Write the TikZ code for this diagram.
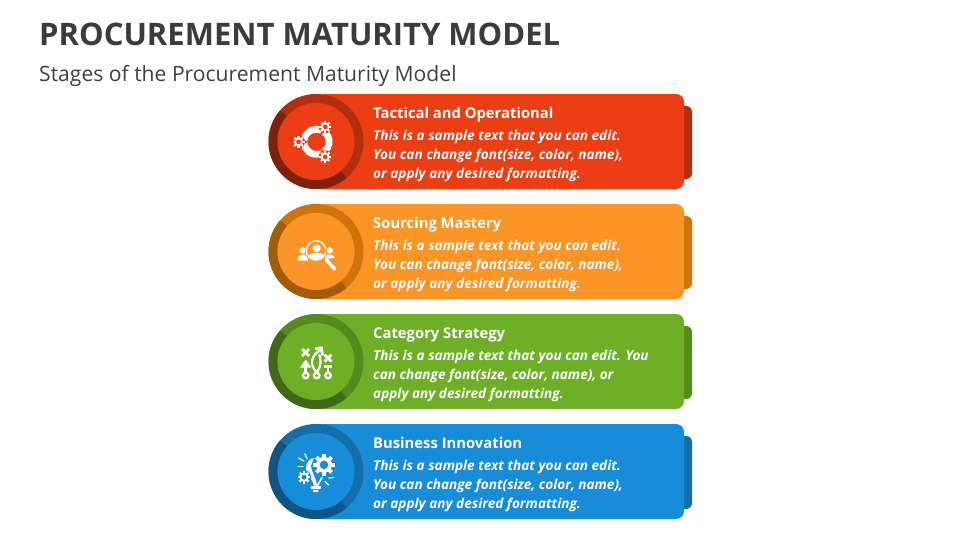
\documentclass[tikz,border=0pt]{standalone}
\usepackage{fontspec}
\setmainfont{Open Sans}
\definecolor{titlegray}{HTML}{3B3B3B}
\definecolor{subgray}{HTML}{404040}
\definecolor{redA}{HTML}{EC3D13}\definecolor{redB}{HTML}{B32E0F}\definecolor{redC}{HTML}{7E200A}
\definecolor{oraA}{HTML}{FB9526}\definecolor{oraB}{HTML}{D0730A}\definecolor{oraC}{HTML}{A35B06}
\definecolor{greA}{HTML}{6EAF26}\definecolor{greB}{HTML}{558A1E}\definecolor{greC}{HTML}{3F6917}
\definecolor{bluA}{HTML}{178CD9}\definecolor{bluB}{HTML}{146FA8}\definecolor{bluC}{HTML}{0E5484}
\tikzset{
  x=1pt,y=-1pt,
  headtext/.style={anchor=base west,inner sep=0pt,text=white,font=\fontsize{14.8}{19}\selectfont\bfseries},
  bodytext/.style={anchor=north west,inner sep=0pt,text=white,align=left,font=\fontsize{13.6}{19.1}\selectfont\bfseries\itshape},
}
% #1 centre y, #2 face, #3 mid, #4 dark
\newcommand{\stagecard}[4]{%
  \fill[#3,rounded corners=6] (670,#1-35.5) -- (692,#1-35.5) -- (692,#1+37.5) -- (670,#1+37.5) -- cycle;
  \fill[#2,rounded corners=8] (316,#1-47.5) -- (684,#1-47.5) -- (684,#1+47.5) -- (316,#1+47.5) -- cycle;
  \fill[#3] (316,#1) circle[radius=47.5];
  \draw[#4,line width=9] (316,#1) ++(-139:43) arc[start angle=-139,end angle=-310,radius=43];
  \fill[#2] (316,#1) circle[radius=38.5];
}
% #1 x, #2 y, #3 radius, #4 hole colour
\newcommand{\gearicon}[4]{%
  \foreach \ang in {0,45,...,315}{\draw[white,line width=#3*0.34] (#1,#2) -- ++(\ang:#3);}
  \fill[white] (#1,#2) circle[radius=#3*0.74];
  \fill[#4] (#1,#2) circle[radius=#3*0.40];
}
\begin{document}
\begin{tikzpicture}
\useasboundingbox (0,0) rectangle (960,540);
\fill[white] (0,0) rectangle (960,540);
\node[anchor=west,inner sep=0pt,text=titlegray,font=\fontsize{31}{38}\selectfont\bfseries] (title) at (39,34.5) {PROCUREMENT MATURITY MODEL};
\node[anchor=west,inner sep=0pt,text=subgray,font=\fontsize{21.1}{24}\selectfont] (subtitle) at (39,75.5) {Stages of the Procurement Maturity Model};

\stagecard{141.5}{redA}{redB}{redC}
\stagecard{251.5}{oraA}{oraB}{oraC}
\stagecard{361.5}{greA}{greB}{greC}
\stagecard{471.5}{bluA}{bluB}{bluC}

% icon 1
\begin{scope}[shift={(316.5,141.8)}]
  \draw[white,line width=6.8] (-52:12.6) arc[start angle=-52,end angle=52,radius=12.6];
  \draw[white,line width=6.8] (68:12.6) arc[start angle=68,end angle=172,radius=12.6];
  \draw[white,line width=6.8] (188:12.6) arc[start angle=188,end angle=292,radius=12.6];
  \fill[redA] (8.7,-15) circle[radius=6.5];\fill[redA] (-18,0) circle[radius=6.5];\fill[redA] (8.7,15) circle[radius=6.5];
  \gearicon{8.7}{-15}{6}{redA}
  \gearicon{-18}{0}{6}{redA}
  \gearicon{8.7}{15}{6}{redA}
\end{scope}

% icon 2
\begin{scope}[shift={(316,251.5)}]
  \fill[white] (-13,-1) circle[radius=3.2];
  \fill[white] (13.7,-1) circle[radius=3.2];
  \fill[white] (-18.7,9) .. controls (-18.7,4) and (-15,2.8) .. (-10,3) -- (-8,9) -- cycle;
  \fill[white] (18.7,6) .. controls (18,4) and (15,2.8) .. (10,3) -- (9,8) -- cycle;
  \fill[oraA] (0,-1) circle[radius=11];
  \draw[white,line width=1.3] (0,-1) circle[radius=9.7];
  \fill[white] (0.7,-3.3) circle[radius=4];
  \fill[white] (-7.5,5.5) .. controls (-6.5,2) and (-3,1.3) .. (0.5,1.3) .. controls (4,1.3) and (7.5,2) .. (8,5.5) .. controls (3,9) and (-3,9) .. (-7.5,5.5) -- cycle;
  \draw[white,line width=3.4,line cap=round] (10.3,8.3) -- (18.7,17.7);
\end{scope}

% icon 3
\begin{scope}[shift={(316,361.5)}]
  \foreach \px in {-10.3,0.7,12}{\fill[white] (\px,14) circle[radius=4];\fill[greA] (\px,14) circle[radius=1.7];}
  \draw[white,line width=2.7] (-10.3,11) -- (-10.3,3);
  \fill[white,rounded corners=0.7] (-16,6) -- (-10.3,-2) -- (-4.7,6) -- cycle;
  \draw[white,line width=2.8] (-13.8,-12.5) -- (-6.8,-5.5);
  \draw[white,line width=2.8] (-6.8,-12.5) -- (-13.8,-5.5);
  \draw[white,line width=2.6] (12,11) -- (12,5);
  \draw[white,line width=2.6] (8,5) -- (16.3,5);
  \draw[white,line width=2.8] (8.6,-6.7) -- (15.4,0);
  \draw[white,line width=2.8] (15.4,-6.7) -- (8.6,0);
  \draw[white,line width=2.2] (0.7,11) .. controls (-7,3) and (-5,-6) .. (5,-12);
  \draw[white,line width=2.2] (0.7,11) .. controls (6,3) and (5,-2) .. (3,-7);
  \draw[white,line width=2.8,line join=miter] (-1,-13) -- (5.5,-13.5) -- (6.5,-6);
\end{scope}

% icon 4
\begin{scope}[shift={(316,471.5)}]
  \fill[white] (0,-14) .. controls (-7,-13.5) and (-10.5,-8) .. (-10,-2) .. controls (-9.5,4) and (-3,8) .. (-2,14) -- (1,14) .. controls (0,6) and (-5,0) .. (-5,-6) .. controls (-5,-9) and (-3,-11) .. (0,-12) -- cycle;
  \draw[white,line width=1.6,line cap=round] (1.5,14) -- (6,6);
  \fill[white,rounded corners=1] (-5.5,14.5) rectangle (5,17.5);
  \fill[white,rounded corners=0.8] (-3,18.5) rectangle (2.5,20.5);
  \fill[bluA] (8,-6.7) circle[radius=11.8];
  \gearicon{8}{-6.7}{10.7}{bluA}
  \fill[bluA] (-12,5.7) circle[radius=7];
  \gearicon{-12}{5.7}{6.3}{bluA}
  \draw[white,line width=1.3,line cap=round] (-17.5,-13.5) -- (-12,-10.5);
  \draw[white,line width=1.3,line cap=round] (-11,-17.5) -- (-9,-13);
  \draw[white,line width=1.3,line cap=round] (-18,-5) -- (-13,-5);
  \draw[white,line width=1.3,line cap=round] (13,6.5) -- (17.5,6);
  \draw[white,line width=1.3,line cap=round] (9,10) -- (12.5,13.5);
\end{scope}

\node[headtext] (h1) at (373,118.5) {Tactical and Operational};
\node[bodytext] (b1) at (373,130) {This is a sample text that you can edit.\\You can change font(size, color, name),\\or apply any desired formatting.};
\node[headtext] (h2) at (373,228.5) {Sourcing Mastery};
\node[bodytext] (b2) at (373,240) {This is a sample text that you can edit.\\You can change font(size, color, name),\\or apply any desired formatting.};
\node[headtext] (h3) at (373,338.5) {Category Strategy};
\node[bodytext] (b3) at (373,350) {This is a sample text that you can edit. You\\can change font(size, color, name), or\\apply any desired formatting.};
\node[headtext] (h4) at (373,448.5) {Business Innovation};
\node[bodytext] (b4) at (373,460) {This is a sample text that you can edit.\\You can change font(size, color, name),\\or apply any desired formatting.};
\end{tikzpicture}
\end{document}
